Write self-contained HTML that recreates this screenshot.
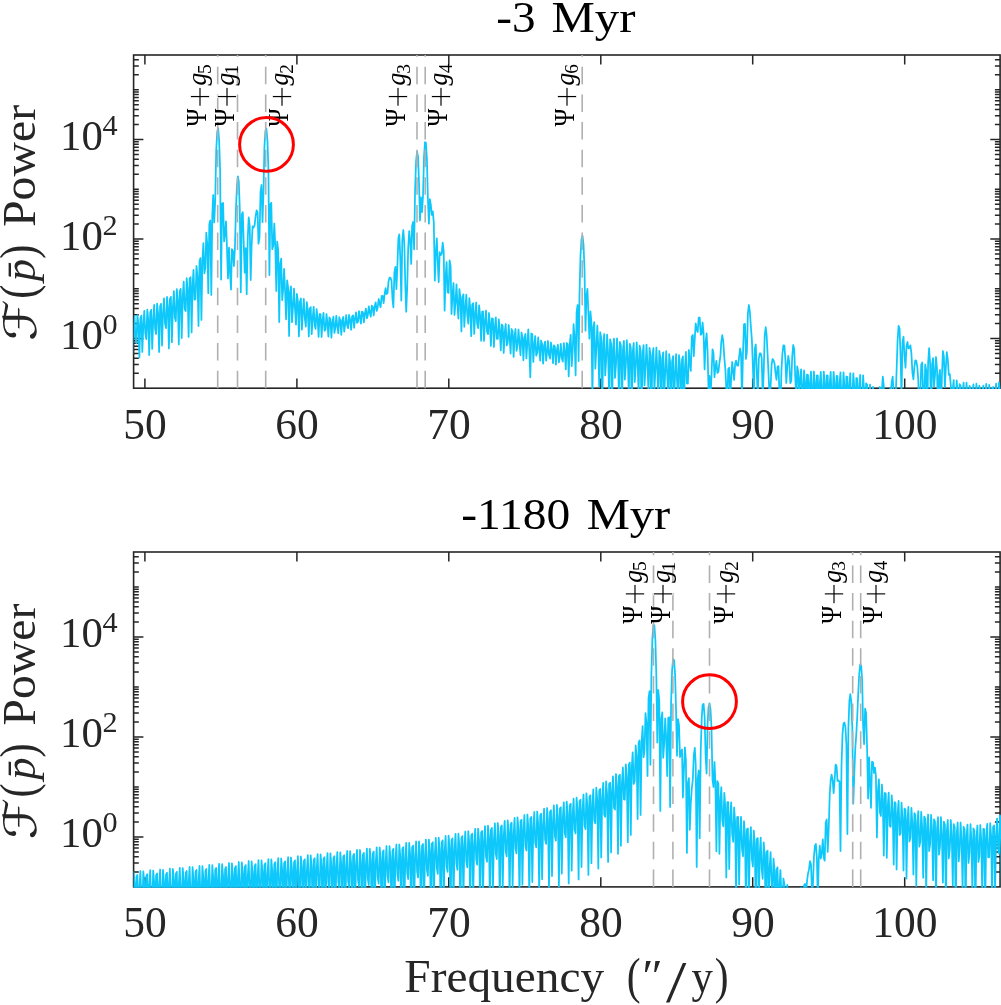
<!DOCTYPE html>
<html><head><meta charset="utf-8"><title>Spectra</title>
<style>html,body{margin:0;padding:0;background:#fff}svg{display:block}text{font-family:"Liberation Serif","DejaVu Serif",serif}.sc{font-family:"DejaVu Sans","DejaVu Math TeX Gyre",sans-serif}.it{font-style:italic}</style></head><body>
<svg width="1001" height="1005" viewBox="0 0 1001 1005">
<rect width="1001" height="1005" fill="#fff"/>
<defs>
<clipPath id="c0"><rect x="133.6" y="55.0" width="868.5" height="334.0"/></clipPath>
<clipPath id="c1"><rect x="133.6" y="552.0" width="868.5" height="335.7"/></clipPath>
</defs>
<g id="panel1">
<rect x="133.6" y="55.0" width="866.5" height="333.2" fill="none" stroke="#262626" stroke-width="1.6"/>
<path d="M144.9 388.2v-9.6M144.9 55.0v9.6M296.9 388.2v-9.6M296.9 55.0v9.6M448.8 388.2v-9.6M448.8 55.0v9.6M600.8 388.2v-9.6M600.8 55.0v9.6M752.7 388.2v-9.6M752.7 55.0v9.6M904.7 388.2v-9.6M904.7 55.0v9.6M133.6 373.2h5.2M1000.1 373.2h-5.2M133.6 364.5h5.2M1000.1 364.5h-5.2M133.6 358.3h5.2M1000.1 358.3h-5.2M133.6 353.4h5.2M1000.1 353.4h-5.2M133.6 349.5h5.2M1000.1 349.5h-5.2M133.6 346.2h5.2M1000.1 346.2h-5.2M133.6 343.3h5.2M1000.1 343.3h-5.2M133.6 340.7h5.2M1000.1 340.7h-5.2M133.6 338.5h9.8M1000.1 338.5h-9.8M133.6 323.5h5.2M1000.1 323.5h-5.2M133.6 314.7h5.2M1000.1 314.7h-5.2M133.6 308.5h5.2M1000.1 308.5h-5.2M133.6 303.7h5.2M1000.1 303.7h-5.2M133.6 299.8h5.2M1000.1 299.8h-5.2M133.6 296.4h5.2M1000.1 296.4h-5.2M133.6 293.5h5.2M1000.1 293.5h-5.2M133.6 291.0h5.2M1000.1 291.0h-5.2M133.6 288.7h5.2M1000.1 288.7h-5.2M133.6 273.7h5.2M1000.1 273.7h-5.2M133.6 265.0h5.2M1000.1 265.0h-5.2M133.6 258.8h5.2M1000.1 258.8h-5.2M133.6 254.0h5.2M1000.1 254.0h-5.2M133.6 250.0h5.2M1000.1 250.0h-5.2M133.6 246.7h5.2M1000.1 246.7h-5.2M133.6 243.8h5.2M1000.1 243.8h-5.2M133.6 241.3h5.2M1000.1 241.3h-5.2M133.6 239.0h9.8M1000.1 239.0h-9.8M133.6 224.0h5.2M1000.1 224.0h-5.2M133.6 215.3h5.2M1000.1 215.3h-5.2M133.6 209.0h5.2M1000.1 209.0h-5.2M133.6 204.2h5.2M1000.1 204.2h-5.2M133.6 200.3h5.2M1000.1 200.3h-5.2M133.6 196.9h5.2M1000.1 196.9h-5.2M133.6 194.1h5.2M1000.1 194.1h-5.2M133.6 191.5h5.2M1000.1 191.5h-5.2M133.6 189.2h5.2M1000.1 189.2h-5.2M133.6 174.3h5.2M1000.1 174.3h-5.2M133.6 165.5h5.2M1000.1 165.5h-5.2M133.6 159.3h5.2M1000.1 159.3h-5.2M133.6 154.5h5.2M1000.1 154.5h-5.2M133.6 150.5h5.2M1000.1 150.5h-5.2M133.6 147.2h5.2M1000.1 147.2h-5.2M133.6 144.3h5.2M1000.1 144.3h-5.2M133.6 141.8h5.2M1000.1 141.8h-5.2M133.6 139.5h9.8M1000.1 139.5h-9.8M133.6 124.5h5.2M1000.1 124.5h-5.2M133.6 115.8h5.2M1000.1 115.8h-5.2M133.6 109.6h5.2M1000.1 109.6h-5.2M133.6 104.7h5.2M1000.1 104.7h-5.2M133.6 100.8h5.2M1000.1 100.8h-5.2M133.6 97.5h5.2M1000.1 97.5h-5.2M133.6 94.6h5.2M1000.1 94.6h-5.2M133.6 92.0h5.2M1000.1 92.0h-5.2M133.6 89.8h5.2M1000.1 89.8h-5.2M133.6 74.8h5.2M1000.1 74.8h-5.2M133.6 66.0h5.2M1000.1 66.0h-5.2M133.6 59.8h5.2M1000.1 59.8h-5.2" stroke="#262626" stroke-width="1.5" fill="none"/>
<polyline clip-path="url(#c0)" fill="none" stroke="#0ec8fb" stroke-width="1.75" stroke-linejoin="round" points="129.5,359.3 130.5,323.1 131.5,320.3 132.5,354.3 133.5,330.7 134.5,315.9 135.4,337.8 136.4,343.4 137.4,315.2 138.4,324.4 139.4,357.5 140.4,318.3 141.4,315.6 142.3,352.0 143.3,325.9 144.3,310.8 145.3,333.6 146.3,339.1 147.3,309.7 148.2,319.3 149.2,355.0 150.2,312.6 151.2,309.9 152.2,348.9 153.2,320.2 154.2,304.9 155.1,328.8 156.1,334.0 157.1,303.6 158.1,313.6 159.1,352.0 160.1,306.3 161.0,303.8 162.0,345.6 163.0,313.9 164.0,298.4 165.0,323.5 166.0,328.1 167.0,296.8 167.9,307.3 168.9,348.4 169.9,299.2 170.9,296.9 171.9,342.2 172.9,306.7 173.9,291.1 174.8,317.5 175.8,321.2 176.8,289.2 177.8,300.2 178.8,344.5 179.8,291.1 180.7,288.9 181.7,338.1 182.7,297.4 183.7,281.6 184.7,309.3 185.7,311.1 186.7,278.2 187.6,289.6 188.6,336.9 189.6,278.8 190.6,277.2 191.6,332.4 192.6,285.3 193.5,269.9 194.5,299.6 195.5,299.2 196.5,266.0 197.5,277.1 198.5,326.0 199.5,261.3 200.4,258.2 201.4,319.9 202.4,260.5 203.4,243.2 204.4,273.3 205.4,267.4 206.3,232.7 207.3,244.4 208.3,293.2 209.3,224.2 210.3,220.5 211.3,294.9 212.3,215.3 213.2,195.0 214.2,222.5 215.2,200.7 216.2,151.0 217.2,131.8 218.2,128.3 219.1,139.6 220.1,169.8 221.1,279.6 222.1,203.5 223.1,202.9 224.1,241.4 225.1,232.6 226.0,221.4 227.0,248.9 228.0,278.5 229.0,247.6 230.0,272.1 231.0,289.7 231.9,249.2 232.9,251.0 233.9,266.1 234.9,248.6 235.9,210.6 236.9,186.2 237.9,176.4 238.8,181.6 239.8,209.6 240.8,292.3 241.8,214.6 242.8,212.2 243.8,245.6 244.7,272.6 245.7,248.1 246.7,294.2 247.7,239.2 248.7,217.4 249.7,225.8 250.7,280.0 251.6,245.9 252.6,226.4 253.6,227.5 254.6,225.3 255.6,216.4 256.6,210.3 257.6,212.7 258.5,243.6 259.5,237.6 260.5,192.1 261.5,185.0 262.5,222.2 263.5,191.5 264.4,147.4 265.4,130.9 266.4,128.7 267.4,139.6 268.4,168.7 269.4,275.1 270.4,204.4 271.3,202.8 272.3,249.2 273.3,245.5 274.3,223.5 275.3,246.8 276.3,291.0 277.2,241.7 278.2,250.4 279.2,322.1 280.2,263.6 281.2,258.6 282.2,300.2 283.2,288.9 284.1,268.9 285.1,291.3 286.1,319.3 287.1,280.4 288.1,287.4 289.1,336.0 290.0,291.8 291.0,286.4 292.0,322.2 293.0,306.6 294.0,288.7 295.0,308.8 296.0,324.6 296.9,293.8 297.9,301.4 298.9,336.5 299.9,302.1 300.9,298.5 301.9,329.6 302.8,313.4 303.8,298.8 304.8,318.2 305.8,326.7 306.8,302.1 307.8,310.6 308.8,336.5 309.7,308.8 310.7,307.1 311.7,334.1 312.7,318.0 313.7,306.8 314.7,325.5 315.6,328.8 316.6,309.1 317.6,318.3 318.6,337.0 319.6,314.0 320.6,314.2 321.6,337.0 322.5,321.2 323.5,312.9 324.5,330.8 325.5,329.6 326.5,314.0 327.5,324.1 328.4,336.6 329.4,317.4 330.4,319.4 331.4,337.8 332.4,322.3 333.4,316.6 334.4,333.0 335.3,328.2 336.3,315.9 337.3,326.4 338.3,333.3 339.3,317.2 340.3,320.8 341.3,334.9 342.2,320.2 343.2,317.0 344.2,331.6 345.2,324.3 346.2,315.1 347.2,325.7 348.1,328.1 349.1,314.9 350.1,319.8 351.1,329.8 352.1,316.4 353.1,315.4 354.1,327.8 355.0,319.0 356.0,312.4 357.0,322.8 358.0,321.9 359.0,311.1 360.0,317.1 360.9,323.6 361.9,311.6 362.9,312.2 363.9,322.5 364.9,313.3 365.9,308.6 366.9,318.3 367.8,315.4 368.8,306.4 369.8,312.6 370.8,316.7 371.8,305.7 372.8,307.0 373.7,315.5 374.7,306.3 375.7,302.3 376.7,311.0 377.7,307.5 378.7,299.0 379.7,304.0 380.6,307.2 381.6,296.1 382.6,295.8 383.6,303.1 384.6,294.5 385.6,288.1 386.5,294.0 387.5,293.1 388.5,281.6 389.5,277.6 390.5,277.8 391.5,280.7 392.5,299.1 393.4,307.3 394.4,272.6 395.4,266.9 396.4,289.2 397.4,265.2 398.4,237.9 399.3,234.4 400.3,258.0 401.3,300.6 402.3,240.3 403.3,230.0 404.3,242.7 405.3,284.6 406.2,311.8 407.2,287.4 408.2,248.0 409.2,231.2 410.2,240.8 411.2,264.0 412.1,225.7 413.1,222.0 414.1,249.3 415.1,188.9 416.1,160.6 417.1,151.3 418.1,157.2 419.0,182.8 420.0,220.5 421.0,197.3 422.0,212.1 423.0,196.4 424.0,156.8 425.0,142.1 425.9,142.8 426.9,158.6 427.9,199.1 428.9,223.6 429.9,199.1 430.9,205.5 431.8,214.8 432.8,211.3 433.8,222.6 434.8,280.6 435.8,253.7 436.8,238.3 437.8,263.2 438.7,282.2 439.7,252.2 440.7,255.2 441.7,253.8 442.7,242.6 443.7,251.4 444.6,310.6 445.6,277.9 446.6,262.0 447.6,292.3 448.6,292.9 449.6,260.3 450.6,266.1 451.5,314.0 452.5,294.5 453.5,283.0 454.5,315.0 455.5,302.5 456.5,284.4 457.4,304.3 458.4,318.6 459.4,289.2 460.4,297.3 461.4,331.5 462.4,297.2 463.4,294.3 464.3,326.8 465.3,308.7 466.3,294.7 467.3,315.6 468.3,323.6 469.3,298.2 470.2,307.4 471.2,336.1 472.2,304.8 473.2,303.2 474.2,333.9 475.2,314.8 476.2,302.5 477.1,323.4 478.1,328.1 479.1,305.3 480.1,315.4 481.1,340.8 482.1,311.8 483.0,311.4 484.0,341.0 485.0,321.6 486.0,310.7 487.0,331.9 488.0,334.1 489.0,313.0 489.9,323.6 490.9,345.9 491.9,318.3 492.9,318.7 493.9,347.0 494.9,327.1 495.8,317.4 496.8,338.8 497.8,338.9 498.8,319.4 499.8,330.8 500.8,350.5 501.8,324.5 502.7,325.9 503.7,353.0 504.7,332.5 505.7,324.0 506.7,345.4 507.7,343.0 508.7,325.0 509.6,337.0 510.6,353.6 511.6,329.0 512.6,331.4 513.6,356.9 514.6,335.9 515.5,329.0 516.5,350.8 517.5,345.4 518.5,329.5 519.5,342.8 520.5,355.3 521.5,332.6 522.4,337.1 523.4,360.3 524.4,337.8 525.4,334.0 526.4,358.4 527.4,342.6 528.3,329.4 529.3,350.9 530.3,377.3 531.3,333.5 532.3,334.2 533.3,362.0 534.3,345.0 535.2,336.1 536.2,355.6 537.2,353.0 538.2,337.4 539.2,349.1 540.2,360.6 541.1,340.5 542.1,344.3 543.1,363.7 544.1,345.4 545.1,341.6 546.1,360.6 547.1,351.9 548.0,341.0 549.0,354.9 550.0,358.6 551.0,342.5 552.0,349.8 553.0,363.3 553.9,345.4 554.9,346.5 555.9,364.6 556.9,349.9 557.9,344.7 558.9,362.5 559.9,355.3 560.8,343.8 561.8,358.3 562.8,361.6 563.8,343.2 564.8,352.3 565.8,369.4 566.7,343.0 567.7,344.3 568.7,376.4 569.7,344.6 570.7,334.8 571.7,366.2 572.7,351.0 573.6,324.2 574.6,337.9 575.6,375.3 576.6,312.2 577.6,305.0 578.6,361.1 579.5,294.4 580.5,255.5 581.5,239.1 582.5,235.6 583.5,244.1 584.5,269.3 585.5,330.7 586.4,296.3 587.4,288.9 588.4,313.5 589.4,338.7 590.4,311.4 591.4,322.0 592.4,398.6 593.3,327.5 594.3,322.2 595.3,368.6 596.3,348.9 597.3,325.5 598.3,347.1 599.2,386.2 600.2,332.2 601.2,337.6 602.2,418.0 603.2,343.1 604.2,334.0 605.2,375.5 606.1,361.0 607.1,334.6 608.1,353.9 609.1,394.6 610.1,339.3 611.1,343.5 612.0,418.0 613.0,348.6 614.0,338.7 615.0,378.0 616.0,364.8 617.0,338.3 618.0,356.8 618.9,394.6 619.9,342.0 620.9,345.8 621.9,418.0 622.9,350.4 623.9,340.8 624.8,379.6 625.8,365.9 626.8,340.2 627.8,359.0 628.8,393.7 629.8,343.8 630.8,348.0 631.7,416.6 632.7,352.1 633.7,343.0 634.7,382.1 635.7,367.0 636.7,342.3 637.6,361.6 638.6,393.5 639.6,345.7 640.6,350.6 641.6,417.9 642.6,353.7 643.6,345.2 644.5,385.4 645.5,368.2 646.5,344.6 647.5,364.7 648.5,394.0 649.5,347.9 650.4,353.6 651.4,418.0 652.4,355.8 653.4,348.2 654.4,390.3 655.4,370.0 656.4,347.5 657.3,369.1 658.3,395.4 659.3,350.9 660.3,357.8 661.3,418.0 662.3,358.7 663.2,352.3 664.2,397.6 665.2,372.5 666.2,351.2 667.2,374.5 668.2,396.9 669.2,354.0 670.1,362.3 671.1,418.0 672.1,361.1 673.1,356.1 674.1,407.1 675.1,373.7 676.1,354.1 677.0,380.3 678.0,395.9 679.0,355.1 680.0,365.2 681.0,418.0 682.0,359.5 682.9,356.4 683.9,418.0 684.9,368.5 685.9,351.8 686.9,383.5 687.9,383.7 688.9,350.0 689.8,363.3 690.8,370.9 691.8,336.5 692.8,334.9 693.8,356.2 694.8,338.1 695.7,323.5 696.7,329.8 697.7,332.0 698.7,317.6 699.7,317.6 700.7,334.8 701.7,333.9 702.6,322.5 703.6,333.3 704.6,369.4 705.6,342.7 706.6,333.4 707.6,351.6 708.5,389.2 709.5,375.9 710.5,399.8 711.5,375.2 712.5,349.3 713.5,353.2 714.5,377.1 715.4,367.4 716.4,360.8 717.4,373.0 718.4,371.9 719.4,363.0 720.4,356.1 721.3,341.9 722.3,335.2 723.3,341.8 724.3,357.5 725.3,368.3 726.3,387.9 727.3,406.0 728.2,369.3 729.2,367.8 730.2,397.4 731.2,378.6 732.2,362.0 733.2,371.2 734.1,380.0 735.1,364.3 736.1,360.6 737.1,365.6 738.1,365.7 739.1,357.4 740.1,348.5 741.0,352.9 742.0,397.9 743.0,353.1 744.0,324.3 745.0,323.8 746.0,359.0 746.9,351.8 747.9,313.1 748.9,305.0 749.9,312.2 750.9,327.0 751.9,340.1 752.9,366.7 753.8,398.0 754.8,348.7 755.8,344.5 756.8,373.1 757.8,396.2 758.8,358.6 759.8,353.4 760.7,353.4 761.7,358.1 762.7,397.6 763.7,372.1 764.7,335.6 765.7,327.2 766.6,334.9 767.6,354.2 768.6,375.9 769.6,397.4 770.6,386.5 771.6,364.8 772.6,359.0 773.5,360.3 774.5,363.2 775.5,373.2 776.5,379.9 777.5,367.0 778.5,366.1 779.4,391.5 780.4,416.3 781.4,371.3 782.4,353.8 783.4,345.3 784.4,345.6 785.4,359.9 786.3,383.0 787.3,365.9 788.3,355.8 789.3,362.9 790.3,383.2 791.3,381.0 792.2,356.8 793.2,345.0 794.2,348.9 795.2,376.3 796.2,396.6 797.2,366.4 798.2,371.3 799.1,407.5 800.1,378.4 801.1,369.3 802.1,394.8 803.1,392.8 804.1,370.3 805.0,382.7 806.0,408.2 807.0,374.6 808.0,375.1 809.0,409.8 810.0,382.7 811.0,371.5 811.9,396.0 812.9,395.5 813.9,371.5 814.9,383.5 815.9,411.0 816.9,375.3 817.8,375.6 818.8,412.2 819.8,383.4 820.8,371.8 821.8,397.3 822.8,396.6 823.8,371.7 824.7,384.1 825.7,413.5 826.7,375.4 827.7,375.7 828.7,415.1 829.7,383.6 830.7,371.8 831.6,398.6 832.6,397.7 833.6,371.9 834.6,384.8 835.6,416.8 836.6,375.8 837.5,376.3 838.5,418.0 839.5,384.4 840.5,372.3 841.5,400.6 842.5,399.2 843.5,372.3 844.4,385.8 845.4,418.0 846.4,376.5 847.4,377.1 848.4,418.0 849.4,385.6 850.3,373.2 851.3,403.1 852.3,401.9 853.3,373.4 854.3,387.3 855.3,418.0 856.3,378.0 857.2,378.5 858.2,418.0 859.2,387.9 860.2,374.8 861.2,406.4 862.2,406.1 863.1,375.3 864.1,390.1 865.1,418.0 866.1,383.3 867.1,384.7 868.1,418.0 869.1,397.9 870.0,384.6 871.0,418.0 872.0,418.0 873.0,386.9 874.0,400.1 875.0,418.0 875.9,392.6 876.9,390.6 877.9,418.0 878.9,404.8 879.9,387.0 880.9,397.7 881.9,390.0 882.8,376.7 883.8,385.9 884.8,406.6 885.8,391.2 886.8,395.7 887.8,418.0 888.7,405.2 889.7,389.2 890.7,392.9 891.7,381.8 892.7,376.6 893.7,394.6 894.7,418.0 895.6,400.3 896.6,370.1 897.6,340.2 898.6,325.9 899.6,328.7 900.6,358.0 901.5,397.1 902.5,342.1 903.5,336.7 904.5,355.8 905.5,367.8 906.5,345.8 907.5,342.0 908.4,348.4 909.4,347.9 910.4,345.4 911.4,353.3 912.4,372.7 913.4,379.4 914.4,366.9 915.3,360.4 916.3,360.9 917.3,366.8 918.3,380.3 919.3,418.0 920.3,397.5 921.2,364.7 922.2,362.5 923.2,396.0 924.2,404.6 925.2,364.5 926.2,370.1 927.2,418.0 928.1,363.4 929.1,348.2 930.1,363.7 931.1,418.0 932.1,364.2 933.1,358.1 934.0,386.5 935.0,375.3 936.0,357.0 937.0,368.8 938.0,418.0 939.0,375.6 940.0,370.0 940.9,418.0 941.9,376.4 942.9,351.0 943.9,356.8 944.9,387.1 945.9,366.5 946.8,352.1 947.8,359.6 948.8,374.9 949.8,374.1 950.8,385.1 951.8,418.0 952.8,388.7 953.7,380.1 954.7,409.2 955.7,402.6 956.7,380.4 957.7,394.2 958.7,417.0 959.6,384.2 960.6,385.8 961.6,418.0 962.6,391.8 963.6,382.6 964.6,406.7 965.6,402.9 966.5,382.7 967.5,395.6 968.5,414.8 969.5,385.8 970.5,388.2 971.5,418.0 972.4,392.3 973.4,384.4 974.4,409.3 975.4,402.1 976.4,383.7 977.4,398.4 978.4,413.9 979.3,385.7 980.3,390.2 981.3,418.0 982.3,391.0 983.3,385.6 984.3,414.6 985.2,399.9 986.2,383.9 987.2,403.0 988.2,412.4 989.2,384.8 990.2,393.4 991.2,418.0 992.1,388.7 993.1,387.0 994.1,418.0 995.1,396.2 996.1,383.6 997.1,409.9 998.1,407.9 999.0,382.5 1000.0,396.6 1001.0,418.0 1002.0,383.7 1003.0,386.7 1004.0,418.0 1004.9,388.0"/>
<line x1="217.7" x2="217.7" y1="388.2" y2="55.0" stroke="#b0b0b0" stroke-width="1.6" stroke-dasharray="17.5 10.13"/>
<line x1="237.5" x2="237.5" y1="388.2" y2="55.0" stroke="#b0b0b0" stroke-width="1.6" stroke-dasharray="17.5 10.13"/>
<line x1="265.7" x2="265.7" y1="388.2" y2="55.0" stroke="#b0b0b0" stroke-width="1.6" stroke-dasharray="17.5 10.13"/>
<line x1="417.0" x2="417.0" y1="388.2" y2="55.0" stroke="#b0b0b0" stroke-width="1.6" stroke-dasharray="17.5 10.13"/>
<line x1="425.2" x2="425.2" y1="388.2" y2="55.0" stroke="#b0b0b0" stroke-width="1.6" stroke-dasharray="17.5 10.13"/>
<line x1="582.2" x2="582.2" y1="388.2" y2="55.0" stroke="#b0b0b0" stroke-width="1.6" stroke-dasharray="17.5 10.13"/>
<text x="145.1" y="438.7" font-size="43.5" text-anchor="middle" fill="#262626">50</text>
<text x="297.1" y="438.7" font-size="43.5" text-anchor="middle" fill="#262626">60</text>
<text x="449.0" y="438.7" font-size="43.5" text-anchor="middle" fill="#262626">70</text>
<text x="601.0" y="438.7" font-size="43.5" text-anchor="middle" fill="#262626">80</text>
<text x="752.9" y="438.7" font-size="43.5" text-anchor="middle" fill="#262626">90</text>
<text x="904.9" y="438.7" font-size="43.5" text-anchor="middle" fill="#262626">100</text>
<text x="60.0" y="349.4" font-size="42.8" fill="#262626">10<tspan font-size="30.2" dy="-15.1" dx="-0.2">0</tspan></text>
<text x="60.0" y="249.9" font-size="42.8" fill="#262626">10<tspan font-size="30.2" dy="-15.1" dx="-0.2">2</tspan></text>
<text x="60.0" y="150.4" font-size="42.8" fill="#262626">10<tspan font-size="30.2" dy="-15.1" dx="-0.2">4</tspan></text>
<g transform="translate(35.0,338.7) rotate(-90)" fill="#262626">
<text transform="translate(-2.18,1.00) scale(1.180,1)" font-size="45.0" class="sc">ℱ</text>
<text transform="translate(39.93,0.30) scale(0.850,1)" font-size="50.0">(</text>
<text transform="translate(57.53,-0.30)" font-size="44.5" class="it">p̄</text>
<text transform="translate(79.84,0.30) scale(0.850,1)" font-size="50.0">)</text>
<text x="111.75" y="0.1" font-size="46.5" textLength="122.1" lengthAdjust="spacingAndGlyphs">Power</text>
</g>
<g transform="translate(206.3,126.5) rotate(-90)" fill="#000">
<text transform="translate(-0.07,0.00) scale(0.820,1)" font-size="29.6">Ψ</text>
<text stroke="#fff" stroke-width="0.7" transform="translate(18.45,6.20)" font-size="40.0">+</text>
<text transform="translate(40.90,0.00) scale(0.950,1)" font-size="27.0" class="it">g</text>
<text transform="translate(52.58,4.60) scale(0.970,1)" font-size="19.9">5</text>
</g>
<g transform="translate(233.7,126.5) rotate(-90)" fill="#000">
<text transform="translate(-0.07,0.00) scale(0.820,1)" font-size="29.6">Ψ</text>
<text stroke="#fff" stroke-width="0.7" transform="translate(18.45,6.20)" font-size="40.0">+</text>
<text transform="translate(40.90,0.00) scale(0.950,1)" font-size="27.0" class="it">g</text>
<text transform="translate(52.00,4.60) scale(0.970,1)" font-size="19.9">1</text>
</g>
<g transform="translate(288.3,126.5) rotate(-90)" fill="#000">
<text transform="translate(-0.07,0.00) scale(0.820,1)" font-size="29.6">Ψ</text>
<text stroke="#fff" stroke-width="0.7" transform="translate(18.45,6.20)" font-size="40.0">+</text>
<text transform="translate(40.90,0.00) scale(0.950,1)" font-size="27.0" class="it">g</text>
<text transform="translate(52.85,4.60) scale(0.970,1)" font-size="19.9">2</text>
</g>
<g transform="translate(405.2,126.5) rotate(-90)" fill="#000">
<text transform="translate(-0.07,0.00) scale(0.820,1)" font-size="29.6">Ψ</text>
<text stroke="#fff" stroke-width="0.7" transform="translate(18.45,6.20)" font-size="40.0">+</text>
<text transform="translate(40.90,0.00) scale(0.950,1)" font-size="27.0" class="it">g</text>
<text transform="translate(52.77,4.60) scale(0.970,1)" font-size="19.9">3</text>
</g>
<g transform="translate(447.4,126.5) rotate(-90)" fill="#000">
<text transform="translate(-0.07,0.00) scale(0.820,1)" font-size="29.6">Ψ</text>
<text stroke="#fff" stroke-width="0.7" transform="translate(18.45,6.20)" font-size="40.0">+</text>
<text transform="translate(40.90,0.00) scale(0.950,1)" font-size="27.0" class="it">g</text>
<text transform="translate(53.31,4.60) scale(0.970,1)" font-size="19.9">4</text>
</g>
<g transform="translate(573.8,126.5) rotate(-90)" fill="#000">
<text transform="translate(-0.07,0.00) scale(0.820,1)" font-size="29.6">Ψ</text>
<text stroke="#fff" stroke-width="0.7" transform="translate(18.45,6.20)" font-size="40.0">+</text>
<text transform="translate(40.90,0.00) scale(0.950,1)" font-size="27.0" class="it">g</text>
<text transform="translate(52.87,4.60) scale(0.970,1)" font-size="19.9">6</text>
</g>
<circle cx="266.5" cy="144.4" r="26.9" fill="none" stroke="#f00" stroke-width="3.0"/>
</g>
<g id="panel2">
<rect x="133.6" y="552.0" width="866.5" height="334.9" fill="none" stroke="#262626" stroke-width="1.6"/>
<path d="M144.9 886.9v-9.6M144.9 552.0v9.6M296.9 886.9v-9.6M296.9 552.0v9.6M448.8 886.9v-9.6M448.8 552.0v9.6M600.8 886.9v-9.6M600.8 552.0v9.6M752.7 886.9v-9.6M752.7 552.0v9.6M904.7 886.9v-9.6M904.7 552.0v9.6M133.6 871.9h5.2M1000.1 871.9h-5.2M133.6 863.0h5.2M1000.1 863.0h-5.2M133.6 856.8h5.2M1000.1 856.8h-5.2M133.6 852.0h5.2M1000.1 852.0h-5.2M133.6 848.0h5.2M1000.1 848.0h-5.2M133.6 844.7h5.2M1000.1 844.7h-5.2M133.6 841.8h5.2M1000.1 841.8h-5.2M133.6 839.2h5.2M1000.1 839.2h-5.2M133.6 836.9h9.8M1000.1 836.9h-9.8M133.6 821.9h5.2M1000.1 821.9h-5.2M133.6 813.1h5.2M1000.1 813.1h-5.2M133.6 806.8h5.2M1000.1 806.8h-5.2M133.6 802.0h5.2M1000.1 802.0h-5.2M133.6 798.0h5.2M1000.1 798.0h-5.2M133.6 794.7h5.2M1000.1 794.7h-5.2M133.6 791.8h5.2M1000.1 791.8h-5.2M133.6 789.2h5.2M1000.1 789.2h-5.2M133.6 786.9h5.2M1000.1 786.9h-5.2M133.6 771.9h5.2M1000.1 771.9h-5.2M133.6 763.1h5.2M1000.1 763.1h-5.2M133.6 756.8h5.2M1000.1 756.8h-5.2M133.6 752.0h5.2M1000.1 752.0h-5.2M133.6 748.0h5.2M1000.1 748.0h-5.2M133.6 744.7h5.2M1000.1 744.7h-5.2M133.6 741.8h5.2M1000.1 741.8h-5.2M133.6 739.2h5.2M1000.1 739.2h-5.2M133.6 736.9h9.8M1000.1 736.9h-9.8M133.6 721.9h5.2M1000.1 721.9h-5.2M133.6 713.1h5.2M1000.1 713.1h-5.2M133.6 706.8h5.2M1000.1 706.8h-5.2M133.6 702.0h5.2M1000.1 702.0h-5.2M133.6 698.0h5.2M1000.1 698.0h-5.2M133.6 694.7h5.2M1000.1 694.7h-5.2M133.6 691.8h5.2M1000.1 691.8h-5.2M133.6 689.2h5.2M1000.1 689.2h-5.2M133.6 686.9h5.2M1000.1 686.9h-5.2M133.6 671.9h5.2M1000.1 671.9h-5.2M133.6 663.1h5.2M1000.1 663.1h-5.2M133.6 656.8h5.2M1000.1 656.8h-5.2M133.6 652.0h5.2M1000.1 652.0h-5.2M133.6 648.0h5.2M1000.1 648.0h-5.2M133.6 644.7h5.2M1000.1 644.7h-5.2M133.6 641.8h5.2M1000.1 641.8h-5.2M133.6 639.2h5.2M1000.1 639.2h-5.2M133.6 636.9h9.8M1000.1 636.9h-9.8M133.6 621.9h5.2M1000.1 621.9h-5.2M133.6 613.1h5.2M1000.1 613.1h-5.2M133.6 606.8h5.2M1000.1 606.8h-5.2M133.6 602.0h5.2M1000.1 602.0h-5.2M133.6 598.0h5.2M1000.1 598.0h-5.2M133.6 594.7h5.2M1000.1 594.7h-5.2M133.6 591.8h5.2M1000.1 591.8h-5.2M133.6 589.2h5.2M1000.1 589.2h-5.2M133.6 586.9h5.2M1000.1 586.9h-5.2M133.6 571.9h5.2M1000.1 571.9h-5.2M133.6 563.1h5.2M1000.1 563.1h-5.2M133.6 556.8h5.2M1000.1 556.8h-5.2" stroke="#262626" stroke-width="1.5" fill="none"/>
<polyline clip-path="url(#c1)" fill="none" stroke="#0ec8fb" stroke-width="1.75" stroke-linejoin="round" points="129.5,888.4 130.5,871.7 131.5,901.4 132.5,908.6 133.5,872.1 134.5,884.2 135.4,916.9 136.4,877.0 137.4,875.0 138.4,916.9 139.4,887.6 140.4,871.0 141.4,900.6 142.3,907.9 143.3,871.4 144.3,883.4 145.3,916.9 146.3,876.2 147.3,874.2 148.2,916.9 149.2,886.9 150.2,870.2 151.2,899.9 152.2,907.1 153.2,870.6 154.2,882.7 155.1,916.9 156.1,875.5 157.1,873.5 158.1,916.9 159.1,886.1 160.1,869.5 161.0,899.2 162.0,906.3 163.0,869.8 164.0,881.9 165.0,916.9 166.0,874.7 167.0,872.7 167.9,916.9 168.9,885.3 169.9,868.7 170.9,898.4 171.9,905.5 172.9,869.0 173.9,881.1 174.8,916.9 175.8,873.9 176.8,871.8 177.8,916.9 178.8,884.4 179.8,867.8 180.7,897.5 181.7,904.6 182.7,868.1 183.7,880.2 184.7,916.9 185.7,873.0 186.7,871.0 187.6,916.9 188.6,883.5 189.6,866.9 190.6,896.7 191.6,903.7 192.6,867.2 193.5,879.3 194.5,916.9 195.5,872.0 196.5,870.0 197.5,916.9 198.5,882.6 199.5,865.9 200.4,895.7 201.4,902.7 202.4,866.2 203.4,878.3 204.4,916.9 205.4,871.0 206.3,869.0 207.3,916.9 208.3,881.5 209.3,864.9 210.3,894.7 211.3,901.7 212.3,865.2 213.2,877.3 214.2,916.9 215.2,870.0 216.2,868.0 217.2,916.9 218.2,880.5 219.1,863.9 220.1,893.7 221.1,900.7 222.1,864.2 223.1,876.3 224.1,916.9 225.1,869.0 226.0,867.0 227.0,916.9 228.0,879.5 229.0,863.0 230.0,892.8 231.0,899.7 231.9,863.3 232.9,875.4 233.9,916.9 234.9,868.1 235.9,866.1 236.9,916.9 237.9,878.6 238.8,862.0 239.8,891.8 240.8,898.7 241.8,862.3 242.8,874.4 243.8,916.9 244.7,867.1 245.7,865.1 246.7,916.9 247.7,877.6 248.7,861.0 249.7,890.9 250.7,897.8 251.6,861.3 252.6,873.5 253.6,916.9 254.6,866.1 255.6,864.2 256.6,916.9 257.6,876.6 258.5,860.1 259.5,889.9 260.5,896.8 261.5,860.4 262.5,872.5 263.5,916.9 264.4,865.2 265.4,863.2 266.4,916.9 267.4,875.7 268.4,859.1 269.4,889.0 270.4,895.8 271.3,859.4 272.3,871.6 273.3,916.9 274.3,864.2 275.3,862.2 276.3,916.9 277.2,874.7 278.2,858.2 279.2,888.1 280.2,894.8 281.2,858.5 282.2,870.6 283.2,916.9 284.1,863.2 285.1,861.3 286.1,916.9 287.1,873.7 288.1,857.2 289.1,887.1 290.0,893.9 291.0,857.5 292.0,869.7 293.0,916.9 294.0,862.3 295.0,860.3 296.0,916.9 296.9,872.8 297.9,856.2 298.9,886.2 299.9,892.8 300.9,856.5 301.9,868.7 302.8,916.9 303.8,861.2 304.8,859.3 305.8,916.9 306.8,871.7 307.8,855.2 308.8,885.1 309.7,891.7 310.7,855.4 311.7,867.6 312.7,916.9 313.7,860.1 314.7,858.2 315.6,916.9 316.6,870.6 317.6,854.1 318.6,884.0 319.6,890.6 320.6,854.3 321.6,866.5 322.5,916.9 323.5,859.1 324.5,857.2 325.5,916.9 326.5,869.6 327.5,853.1 328.4,883.1 329.4,889.6 330.4,853.3 331.4,865.6 332.4,916.9 333.4,858.1 334.4,856.2 335.3,916.9 336.3,868.6 337.3,852.1 338.3,882.1 339.3,888.6 340.3,852.3 341.3,864.6 342.2,916.9 343.2,857.0 344.2,855.2 345.2,916.9 346.2,867.4 347.2,851.0 348.1,881.0 349.1,887.5 350.1,851.2 351.1,863.4 352.1,916.9 353.1,855.9 354.1,854.0 355.0,916.3 356.0,866.3 357.0,849.8 358.0,879.9 359.0,886.3 360.0,850.0 360.9,862.3 361.9,916.9 362.9,854.7 363.9,852.8 364.9,915.2 365.9,865.0 366.9,848.6 367.8,878.7 368.8,885.0 369.8,848.8 370.8,861.1 371.8,916.9 372.8,853.4 373.7,851.6 374.7,914.1 375.7,863.8 376.7,847.4 377.7,877.5 378.7,883.7 379.7,847.5 380.6,859.8 381.6,916.9 382.6,852.1 383.6,850.3 384.6,912.9 385.6,862.5 386.5,846.0 387.5,876.1 388.5,882.3 389.5,846.1 390.5,858.4 391.5,916.9 392.5,850.7 393.4,848.8 394.4,911.5 395.4,860.9 396.4,844.5 397.4,874.6 398.4,880.8 399.3,844.5 400.3,856.8 401.3,916.9 402.3,849.1 403.3,847.2 404.3,910.0 405.3,859.3 406.2,842.9 407.2,873.1 408.2,879.1 409.2,842.9 410.2,855.3 411.2,916.9 412.1,847.4 413.1,845.6 414.1,908.6 415.1,857.7 416.1,841.3 417.1,871.5 418.1,877.5 419.0,841.3 420.0,853.6 421.0,916.9 422.0,845.8 423.0,844.0 424.0,907.0 425.0,856.0 425.9,839.6 426.9,869.8 427.9,875.8 428.9,839.6 429.9,852.0 430.9,916.9 431.8,844.0 432.8,842.2 433.8,905.4 434.8,854.2 435.8,837.8 436.8,868.0 437.8,873.9 438.7,837.7 439.7,850.1 440.7,916.9 441.7,842.1 442.7,840.3 443.7,903.6 444.6,852.2 445.6,835.8 446.6,866.1 447.6,871.9 448.6,835.7 449.6,848.1 450.6,916.9 451.5,840.1 452.5,838.3 453.5,901.8 454.5,850.2 455.5,833.8 456.5,864.1 457.4,869.8 458.4,833.7 459.4,846.1 460.4,915.3 461.4,837.9 462.4,836.1 463.4,899.7 464.3,847.9 465.3,831.5 466.3,861.8 467.3,867.4 468.3,831.2 469.3,843.6 470.2,912.9 471.2,835.4 472.2,833.6 473.2,897.4 474.2,845.3 475.2,828.9 476.2,859.3 477.1,864.7 478.1,828.6 479.1,841.0 480.1,910.2 481.1,832.7 482.1,830.9 483.0,894.8 484.0,842.4 485.0,826.1 486.0,856.5 487.0,861.8 488.0,825.7 489.0,838.1 489.9,907.3 490.9,829.8 491.9,828.0 492.9,892.2 493.9,839.7 494.9,823.4 495.8,853.9 496.8,859.1 497.8,823.0 498.8,835.5 499.8,904.8 500.8,827.2 501.8,825.5 502.7,889.9 503.7,837.0 504.7,820.8 505.7,851.3 506.7,856.4 507.7,820.4 508.7,832.9 509.6,902.1 510.6,824.4 511.6,822.7 512.6,887.3 513.6,834.2 514.6,817.9 515.5,848.5 516.5,853.4 517.5,817.4 518.5,830.0 519.5,899.2 520.5,821.4 521.5,819.8 522.4,884.7 523.4,831.2 524.4,815.0 525.4,845.7 526.4,850.5 527.4,814.5 528.3,827.1 529.3,896.4 530.3,818.6 531.3,816.9 532.3,882.1 533.3,828.2 534.3,812.0 535.2,842.8 536.2,847.4 537.2,811.5 538.2,824.1 539.2,893.2 540.2,815.4 541.1,813.7 542.1,879.2 543.1,824.9 544.1,808.7 545.1,839.5 546.1,843.9 547.1,808.0 548.0,820.6 549.0,889.7 550.0,811.8 551.0,810.2 552.0,876.1 553.0,821.5 553.9,805.4 554.9,836.4 555.9,840.7 556.9,804.9 557.9,817.6 558.9,886.8 559.9,808.8 560.8,807.3 561.8,873.6 562.8,818.4 563.8,802.3 564.8,833.4 565.8,837.4 566.7,801.6 567.7,814.4 568.7,883.4 569.7,805.3 570.7,803.8 571.7,870.6 572.7,814.7 573.6,798.6 574.6,829.8 575.6,833.5 576.6,797.7 577.6,810.6 578.6,879.4 579.5,801.3 580.5,799.8 581.5,867.1 582.5,810.5 583.5,794.5 584.5,825.8 585.5,829.1 586.4,793.4 587.4,806.3 588.4,874.9 589.4,796.8 590.4,795.3 591.4,863.2 592.4,805.5 593.3,789.4 594.3,820.7 595.3,823.4 596.3,787.7 597.3,800.5 598.3,868.6 599.2,790.4 600.2,788.9 601.2,857.5 602.2,798.8 603.2,782.9 604.2,814.6 605.2,816.8 606.1,781.3 607.1,794.4 608.1,862.0 609.1,784.1 610.1,782.7 611.1,852.4 612.0,792.2 613.0,776.3 614.0,808.1 615.0,809.5 616.0,774.0 617.0,787.1 618.0,853.8 618.9,776.1 619.9,774.8 620.9,845.8 621.9,783.5 622.9,767.5 623.9,799.5 624.8,799.7 625.8,764.3 626.8,777.3 627.8,842.2 628.8,764.6 629.8,762.6 630.8,834.9 631.7,768.9 632.7,752.3 633.7,783.9 634.7,781.4 635.7,745.5 636.7,758.0 637.6,819.1 638.6,742.7 639.6,740.3 640.6,815.0 641.6,743.5 642.6,726.1 643.6,757.2 644.5,750.4 645.5,713.2 646.5,723.5 647.5,776.0 648.5,698.7 649.5,691.2 650.4,764.8 651.4,673.5 652.4,638.1 653.4,624.8 654.4,625.4 655.4,640.3 656.4,679.2 657.3,742.4 658.3,690.0 659.3,701.3 660.3,811.0 661.3,718.4 662.3,712.3 663.2,757.8 664.2,743.6 665.2,718.3 666.2,738.6 667.2,776.1 668.2,717.9 669.2,717.2 670.1,807.0 671.1,702.3 672.1,670.4 673.1,658.9 674.1,660.3 675.1,675.1 676.1,712.1 677.0,755.8 678.0,719.1 679.0,724.8 680.0,757.0 681.0,752.1 682.0,749.5 682.9,797.5 683.9,770.6 684.9,747.3 685.9,760.3 686.9,852.9 687.9,782.8 688.9,778.1 689.8,829.8 690.8,803.3 691.8,788.5 692.8,779.9 693.8,755.3 694.8,747.9 695.7,763.9 696.7,867.0 697.7,778.4 698.7,770.5 699.7,838.2 700.7,752.2 701.7,718.5 702.6,704.8 703.6,703.9 704.6,716.5 705.6,755.7 706.6,773.6 707.6,723.8 708.5,707.6 709.5,703.4 710.5,709.0 711.5,728.0 712.5,779.5 713.5,787.2 714.5,762.0 715.4,782.0 716.4,851.3 717.4,781.1 718.4,783.7 719.4,853.8 720.4,800.4 721.3,787.2 722.3,820.5 723.3,826.4 724.3,792.8 725.3,807.4 726.3,877.5 727.3,802.1 728.2,802.1 729.2,869.0 730.2,816.5 731.2,802.3 732.2,834.9 733.2,841.8 734.1,807.5 735.1,821.8 736.1,895.8 737.1,817.0 738.1,816.9 739.1,884.4 740.1,831.8 741.0,816.8 742.0,849.0 743.0,856.3 744.0,821.1 745.0,835.0 746.0,912.7 746.9,829.2 747.9,828.5 748.9,895.9 749.9,842.8 750.9,827.2 751.9,858.8 752.9,866.6 753.8,830.6 754.8,844.1 755.8,916.9 756.8,839.0 757.8,838.1 758.8,904.6 759.8,853.4 760.7,837.6 761.7,869.0 762.7,878.8 763.7,842.3 764.7,855.5 765.7,916.9 766.6,851.9 767.6,850.7 768.6,912.3 769.6,868.1 770.6,852.1 771.6,881.7 772.6,895.4 773.5,858.5 774.5,870.4 775.5,916.9 776.5,869.9 777.5,867.3 778.5,915.1 779.4,887.9 780.4,870.1 781.4,893.2 782.4,914.7 783.4,878.5 784.4,884.7 785.4,916.9 786.3,893.6 787.3,884.9 788.3,906.5 789.3,916.9 790.3,893.7 791.3,896.1 792.2,916.9 793.2,915.5 794.2,895.1 795.2,905.9 796.2,916.9 797.2,902.0 798.2,893.5 799.1,916.9 800.1,914.5 801.1,887.7 802.1,900.2 803.1,914.9 804.1,885.2 805.0,884.0 806.0,894.4 807.0,881.4 808.0,873.6 809.0,869.4 810.0,861.2 811.0,864.2 811.9,890.4 812.9,885.9 813.9,857.4 814.9,845.7 815.9,844.0 816.9,858.2 817.8,902.0 818.8,858.7 819.8,845.7 820.8,858.7 821.8,853.3 822.8,839.3 823.8,857.7 824.7,860.7 825.7,822.5 826.7,819.5 827.7,851.9 828.7,829.2 829.7,795.0 830.7,780.0 831.6,774.6 832.6,779.9 833.6,793.3 834.6,780.1 835.6,764.6 836.6,766.0 837.5,780.9 838.5,780.7 839.5,781.5 840.5,851.1 841.5,765.6 842.5,734.4 843.5,723.6 844.4,722.4 845.4,726.9 846.4,744.5 847.4,834.1 848.4,727.4 849.4,700.9 850.3,694.1 851.3,702.1 852.3,728.1 853.3,803.7 854.3,773.5 855.3,748.1 856.3,734.0 857.2,717.8 858.2,694.1 859.2,674.3 860.2,664.4 861.2,665.5 862.2,680.8 863.1,725.2 864.1,744.3 865.1,708.7 866.1,713.0 867.1,748.4 868.1,798.5 869.1,757.3 870.0,781.1 871.0,807.8 872.0,761.7 873.0,762.2 874.0,773.0 875.0,767.6 875.9,776.1 876.9,837.4 877.9,791.7 878.9,779.4 879.9,812.3 880.9,815.9 881.9,784.5 882.8,799.5 883.8,855.6 884.8,792.8 885.8,793.7 886.8,857.8 887.8,805.8 888.7,792.6 889.7,825.9 890.7,826.7 891.7,795.4 892.7,810.6 893.7,864.6 894.7,802.1 895.6,803.2 896.6,869.5 897.6,813.9 898.6,800.9 899.6,834.9 900.6,833.5 901.5,802.7 902.5,818.2 903.5,870.5 904.5,808.6 905.5,809.9 906.5,878.5 907.5,819.5 908.4,806.8 909.4,841.5 910.4,838.2 911.4,807.9 912.4,823.8 913.4,874.5 914.4,813.1 915.3,814.8 916.3,886.1 917.3,823.4 918.3,811.1 919.3,846.7 920.3,841.7 921.2,811.8 922.2,828.2 923.2,877.7 924.2,816.6 925.2,818.6 926.2,893.5 927.2,826.5 928.1,814.5 929.1,851.1 930.1,844.3 931.1,814.8 932.1,831.7 933.1,880.2 934.0,819.3 935.0,821.7 936.0,901.1 937.0,828.9 938.0,817.2 939.0,854.7 940.0,846.3 940.9,817.2 941.9,834.6 942.9,882.6 943.9,821.7 944.9,824.5 945.9,909.7 946.8,831.4 947.8,820.0 948.8,858.5 949.8,848.9 950.8,820.0 951.8,837.7 952.8,885.5 953.7,824.2 954.7,827.0 955.7,916.9 956.7,833.6 957.7,822.5 958.7,861.4 959.6,851.4 960.6,822.5 961.6,840.3 962.6,889.3 963.6,826.8 964.6,829.6 965.6,916.9 966.5,836.3 967.5,824.7 968.5,863.0 969.5,854.0 970.5,824.2 971.5,841.4 972.4,893.5 973.4,828.5 974.4,830.6 975.4,916.9 976.4,838.1 977.4,825.6 978.4,862.0 979.3,856.4 980.3,825.0 981.3,840.7 982.3,898.4 983.3,828.8 984.3,829.3 985.2,906.1 986.2,838.1 987.2,823.9 988.2,857.4 989.2,857.2 990.2,823.2 991.2,836.8 992.1,903.8 993.1,826.9 994.1,825.5 995.1,892.5 996.1,835.7 997.1,818.6 998.1,848.0 999.0,853.6 1000.0,815.4 1001.0,826.1 1002.0,905.3 1003.0,816.6 1004.0,812.4 1004.9,871.6"/>
<line x1="653.5" x2="653.5" y1="886.9" y2="552.0" stroke="#b0b0b0" stroke-width="1.6" stroke-dasharray="17.5 10.13"/>
<line x1="672.9" x2="672.9" y1="886.9" y2="552.0" stroke="#b0b0b0" stroke-width="1.6" stroke-dasharray="17.5 10.13"/>
<line x1="709.5" x2="709.5" y1="886.9" y2="552.0" stroke="#b0b0b0" stroke-width="1.6" stroke-dasharray="17.5 10.13"/>
<line x1="852.7" x2="852.7" y1="886.9" y2="552.0" stroke="#b0b0b0" stroke-width="1.6" stroke-dasharray="17.5 10.13"/>
<line x1="860.7" x2="860.7" y1="886.9" y2="552.0" stroke="#b0b0b0" stroke-width="1.6" stroke-dasharray="17.5 10.13"/>
<text x="145.1" y="937.4" font-size="43.5" text-anchor="middle" fill="#262626">50</text>
<text x="297.1" y="937.4" font-size="43.5" text-anchor="middle" fill="#262626">60</text>
<text x="449.0" y="937.4" font-size="43.5" text-anchor="middle" fill="#262626">70</text>
<text x="601.0" y="937.4" font-size="43.5" text-anchor="middle" fill="#262626">80</text>
<text x="752.9" y="937.4" font-size="43.5" text-anchor="middle" fill="#262626">90</text>
<text x="904.9" y="937.4" font-size="43.5" text-anchor="middle" fill="#262626">100</text>
<text x="60.0" y="846.9" font-size="42.8" fill="#262626">10<tspan font-size="30.2" dy="-15.1" dx="-0.2">0</tspan></text>
<text x="60.0" y="746.9" font-size="42.8" fill="#262626">10<tspan font-size="30.2" dy="-15.1" dx="-0.2">2</tspan></text>
<text x="60.0" y="646.9" font-size="42.8" fill="#262626">10<tspan font-size="30.2" dy="-15.1" dx="-0.2">4</tspan></text>
<g transform="translate(35.0,837.4) rotate(-90)" fill="#262626">
<text transform="translate(-2.18,1.00) scale(1.180,1)" font-size="45.0" class="sc">ℱ</text>
<text transform="translate(39.93,0.30) scale(0.850,1)" font-size="50.0">(</text>
<text transform="translate(57.53,-0.30)" font-size="44.5" class="it">p̄</text>
<text transform="translate(79.84,0.30) scale(0.850,1)" font-size="50.0">)</text>
<text x="111.75" y="0.1" font-size="46.5" textLength="122.1" lengthAdjust="spacingAndGlyphs">Power</text>
</g>
<g transform="translate(641.7,623.6) rotate(-90)" fill="#000">
<text transform="translate(-0.07,0.00) scale(0.820,1)" font-size="29.6">Ψ</text>
<text stroke="#fff" stroke-width="0.7" transform="translate(18.45,6.20)" font-size="40.0">+</text>
<text transform="translate(40.90,0.00) scale(0.950,1)" font-size="27.0" class="it">g</text>
<text transform="translate(52.58,4.60) scale(0.970,1)" font-size="19.9">5</text>
</g>
<g transform="translate(669.9,623.6) rotate(-90)" fill="#000">
<text transform="translate(-0.07,0.00) scale(0.820,1)" font-size="29.6">Ψ</text>
<text stroke="#fff" stroke-width="0.7" transform="translate(18.45,6.20)" font-size="40.0">+</text>
<text transform="translate(40.90,0.00) scale(0.950,1)" font-size="27.0" class="it">g</text>
<text transform="translate(52.00,4.60) scale(0.970,1)" font-size="19.9">1</text>
</g>
<g transform="translate(733.1,623.6) rotate(-90)" fill="#000">
<text transform="translate(-0.07,0.00) scale(0.820,1)" font-size="29.6">Ψ</text>
<text stroke="#fff" stroke-width="0.7" transform="translate(18.45,6.20)" font-size="40.0">+</text>
<text transform="translate(40.90,0.00) scale(0.950,1)" font-size="27.0" class="it">g</text>
<text transform="translate(52.85,4.60) scale(0.970,1)" font-size="19.9">2</text>
</g>
<g transform="translate(840.7,623.6) rotate(-90)" fill="#000">
<text transform="translate(-0.07,0.00) scale(0.820,1)" font-size="29.6">Ψ</text>
<text stroke="#fff" stroke-width="0.7" transform="translate(18.45,6.20)" font-size="40.0">+</text>
<text transform="translate(40.90,0.00) scale(0.950,1)" font-size="27.0" class="it">g</text>
<text transform="translate(52.77,4.60) scale(0.970,1)" font-size="19.9">3</text>
</g>
<g transform="translate(882.3,623.6) rotate(-90)" fill="#000">
<text transform="translate(-0.07,0.00) scale(0.820,1)" font-size="29.6">Ψ</text>
<text stroke="#fff" stroke-width="0.7" transform="translate(18.45,6.20)" font-size="40.0">+</text>
<text transform="translate(40.90,0.00) scale(0.950,1)" font-size="27.0" class="it">g</text>
<text transform="translate(53.31,4.60) scale(0.970,1)" font-size="19.9">4</text>
</g>
<circle cx="709.5" cy="701.6" r="26.9" fill="none" stroke="#f00" stroke-width="3.0"/>
</g>
<text x="496.33" y="32.0" font-size="45.0" fill="#000" textLength="39.4" lengthAdjust="spacingAndGlyphs">-3</text>
<text x="551.50" y="32.0" font-size="45.0" fill="#000" textLength="83.9" lengthAdjust="spacingAndGlyphs">Myr</text>
<text x="461.23" y="528.8" font-size="45.0" fill="#000" textLength="109.1" lengthAdjust="spacingAndGlyphs">-1180</text>
<text x="586.70" y="528.8" font-size="45.0" fill="#000" textLength="83.6" lengthAdjust="spacingAndGlyphs">Myr</text>
<text x="404.35" y="992.4" font-size="46.5" fill="#262626" textLength="199.8" lengthAdjust="spacingAndGlyphs">Frequency</text>
<g transform="translate(0,992.4)" fill="#262626">
<text transform="translate(626.67,0.30) scale(0.830,1)" font-size="50.0">(</text>
<text transform="translate(642.14,0.00) scale(1.060,1)" font-size="46.5">″</text>
<text transform="translate(666.00,9.50) scale(1.220,1)" font-size="60.0">/</text>
<text transform="translate(691.49,0.00) scale(0.920,1)" font-size="46.5">y</text>
<text transform="translate(714.67,0.30) scale(0.830,1)" font-size="50.0">)</text>
</g>
</svg></body></html>
